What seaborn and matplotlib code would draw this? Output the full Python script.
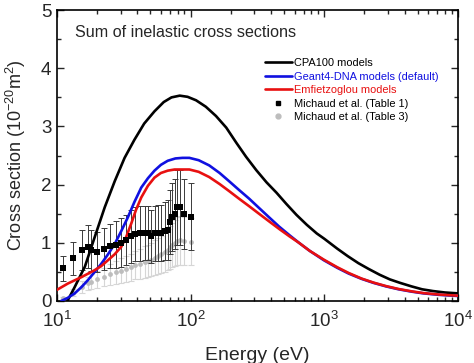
import numpy as np
import pandas as pd
import matplotlib
matplotlib.use("Agg")
import matplotlib.pyplot as plt
import seaborn as sns
from matplotlib.lines import Line2D
from matplotlib.ticker import LogLocator, MultipleLocator, NullFormatter

# ---- model curves (energy in eV, cross section in 1e-20 m^2) ----
cpa_E = [12.0, 13.6, 16.2, 19.2, 22.8, 27.1, 32.1, 38, 45, 53.7, 63, 72, 83, 95, 110, 130,
         155, 185, 220, 260, 310, 370, 440, 520, 620, 740, 880, 1000, 1250, 1500, 1800, 2150,
         2600, 3100, 3700, 4500, 5400, 6500, 8000, 10000]
cpa_V = [0.0, 0.24, 0.59, 1.10, 1.61, 2.06, 2.46, 2.77, 3.05, 3.26, 3.42, 3.50, 3.53, 3.51, 3.45, 3.34,
         3.18, 2.98, 2.72, 2.48, 2.25, 2.04, 1.86, 1.67, 1.48, 1.31, 1.16, 1.07, 0.90, 0.77, 0.65, 0.55,
         0.45, 0.37, 0.31, 0.25, 0.20, 0.17, 0.145, 0.13]

g4_E = [10.8, 12, 13.6, 15.3, 17.1, 19.2, 21.5, 24.1, 27.1, 30.3, 34, 38, 42.8, 48, 53.7, 60,
        67.5, 77, 87, 98, 115, 138, 165, 194, 230, 274, 325, 386, 459, 550, 647, 780, 993,
        1250, 1525, 1900, 2340, 2900, 3600, 4500, 5520, 7200, 10000]
g4_V = [0.0, 0.05, 0.13, 0.24, 0.36, 0.50, 0.64, 0.80, 0.98, 1.20, 1.44, 1.70, 1.95, 2.11, 2.24, 2.34,
        2.41, 2.45, 2.46, 2.46, 2.42, 2.33, 2.20, 2.06, 1.91, 1.76, 1.60, 1.44, 1.28, 1.13, 1.00, 0.86, 0.70,
        0.57, 0.47, 0.38, 0.31, 0.25, 0.20, 0.16, 0.13, 0.105, 0.085]

em_E = [10.0, 12.1, 15.3, 19.2, 21.5, 24.1, 27.0, 30.3, 33, 36, 39, 42.8, 48, 53.7, 60, 67.5,
        76, 85, 98, 115, 138, 165, 194, 230, 274, 325, 386, 459, 550, 647, 780, 993,
        1250, 1525, 1900, 2340, 2900, 3600, 4500, 5520, 7200, 10000]
em_V = [0.19, 0.30, 0.41, 0.53, 0.60, 0.70, 0.80, 0.93, 1.10, 1.33, 1.56, 1.78, 1.98, 2.12, 2.20, 2.24,
        2.26, 2.26, 2.26, 2.22, 2.13, 2.01, 1.89, 1.76, 1.63, 1.50, 1.37, 1.24, 1.11, 1.00, 0.86, 0.71,
        0.58, 0.48, 0.385, 0.315, 0.255, 0.205, 0.165, 0.135, 0.11, 0.09]

# ---- Michaud et al. data ----
t1_E = [11.1, 13.2, 15.4, 17.1, 18.1, 19.8, 22.5, 24.8, 27.5, 30.0, 32.7, 35.6, 38.4, 41.7, 45.5,
        48.2, 51, 54, 57, 60.6, 64.2, 68, 70, 73, 76, 79, 84, 89, 100]
t1_V = [0.56, 0.73, 0.88, 0.93, 0.87, 0.84, 0.90, 0.94, 0.97, 1.00, 1.05, 1.11, 1.15, 1.16, 1.17,
        1.17, 1.11, 1.16, 1.17, 1.17, 1.20, 1.22, 1.36, 1.44, 1.50, 1.61, 1.61, 1.50, 1.45]
t1_err = [0.21, 0.29, 0.34, 0.37, 0.35, 0.34, 0.36, 0.38, 0.40, 0.42, 0.43, 0.45, 0.47, 0.47, 0.47,
          0.47, 0.45, 0.47, 0.48, 0.48, 0.50, 0.52, 0.55, 0.58, 0.60, 0.64, 0.64, 0.60, 0.58]

t3_E = [11.1, 13.2, 15.4, 17.1, 18.1, 19.8, 22.5, 24.8, 27.5, 30.0, 32.7, 35.6, 38.4, 41.7, 45.5,
        48.2, 51, 54, 57, 60.6, 64.2, 68, 70, 73, 76, 79, 84, 89, 100]
t3_V = [0.05, 0.14, 0.24, 0.30, 0.33, 0.37, 0.41, 0.46, 0.49, 0.52, 0.55, 0.58, 0.61, 0.64, 0.67,
        0.69, 0.71, 0.74, 0.77, 0.80, 0.84, 0.88, 0.92, 0.96, 1.00, 1.03, 1.04, 1.03, 1.02]
t3_err = [0.02, 0.06, 0.10, 0.12, 0.13, 0.15, 0.16, 0.18, 0.20, 0.21, 0.22, 0.23, 0.24, 0.26, 0.27,
          0.28, 0.28, 0.30, 0.31, 0.32, 0.34, 0.35, 0.37, 0.38, 0.40, 0.41, 0.42, 0.41, 0.41]

labels = ["CPA100 models", "Geant4-DNA models (default)", "Emfietzoglou models",
          "Michaud et al. (Table 1)", "Michaud et al. (Table 3)"]
colors = ["#000000", "#1010e0", "#e81010", "#000000", "#bdbdbd"]

sns.set_style("ticks")
plt.rcParams["font.family"] = ["Liberation Sans", "DejaVu Sans"]
plt.rcParams["axes.linewidth"] = 1.2

fig = plt.figure(figsize=(4.74, 3.63), dpi=100)
ax = fig.add_axes([0.120, 0.171, 0.846, 0.801])

# data with error bars
ax.errorbar(t3_E, t3_V, yerr=t3_err, fmt="none", ecolor="#d6d6d6", elinewidth=0.8,
            capsize=2.2, capthick=0.8, zorder=1)
sns.scatterplot(x=t3_E, y=t3_V, ax=ax, color=colors[4], marker="o", s=12, linewidth=0, zorder=2)
ax.errorbar(t1_E, t1_V, yerr=t1_err, fmt="none", ecolor="#3a3a3a", elinewidth=0.7,
            capsize=2.2, capthick=0.7, zorder=3)
sns.scatterplot(x=t1_E, y=t1_V, ax=ax, color="black", marker="s", s=15, linewidth=0, zorder=6)

df = pd.concat([
    pd.DataFrame({"E": cpa_E, "V": cpa_V, "model": labels[0]}),
    pd.DataFrame({"E": g4_E, "V": g4_V, "model": labels[1]}),
    pd.DataFrame({"E": em_E, "V": em_V, "model": labels[2]}),
])
sns.lineplot(data=df, x="E", y="V", hue="model", palette=dict(zip(labels[:3], colors[:3])),
             linewidth=1.9, ax=ax, legend=False, sort=False, zorder=5)

ax.set_xscale("log")
ax.set_xlim(10, 1e4)
ax.set_ylim(0, 5)
ax.yaxis.set_major_locator(MultipleLocator(1))
ax.yaxis.set_minor_locator(MultipleLocator(0.5))
ax.xaxis.set_minor_locator(LogLocator(base=10, subs=np.arange(2, 10)))
ax.xaxis.set_minor_formatter(NullFormatter())
ax.tick_params(which="both", direction="in", top=True, right=True, labelsize=13.5, width=1.0)
ax.tick_params(which="major", length=5, pad=4)
ax.tick_params(axis="x", which="major", pad=7)
ax.tick_params(which="minor", length=2.8)
for s in ax.spines.values():
    s.set_visible(True)
    s.set_linewidth(1.2)
    s.set_color("black")

ax.set_xlabel("Energy (eV)", fontsize=14, labelpad=12)
ax.set_ylabel(r"Cross section (10$^{\mathregular{-20}}$m$^{\mathregular{2}}$)", fontsize=13, labelpad=9)

ax.text(0.045, 0.922, "Sum of inelastic cross sections", transform=ax.transAxes,
        fontsize=11.6, va="center", ha="left")

handles = [
    Line2D([], [], color=colors[0], lw=1.9),
    Line2D([], [], color=colors[1], lw=1.9),
    Line2D([], [], color=colors[2], lw=1.9),
    Line2D([], [], color="black", marker="s", ls="none", ms=3.5),
    Line2D([], [], color=colors[4], marker="o", ls="none", ms=3.5),
]
leg = ax.legend(handles, labels, loc="upper left", bbox_to_anchor=(0.519, 0.835),
                frameon=False, fontsize=7.9, handlelength=2.45, handletextpad=0.15,
                labelspacing=0.32, borderpad=0, borderaxespad=0)
for t, c in zip(leg.get_texts(), ["black", colors[1], colors[2], "black", "black"]):
    t.set_color(c)

fig.savefig("out.png", dpi=100)
